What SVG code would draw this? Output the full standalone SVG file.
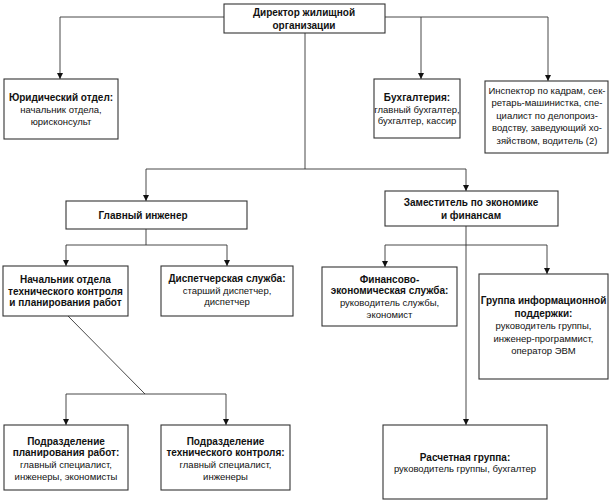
<svg xmlns="http://www.w3.org/2000/svg" width="611" height="504" viewBox="0 0 611 504">
<style>
.box{fill:#fff;stroke:#333;stroke-width:1.1}
.ln{fill:none;stroke:#333;stroke-width:0.9}
text{font-family:"Liberation Sans",Arial,sans-serif;fill:#111;text-anchor:middle}
.b{font-weight:bold;font-size:10px}
.r{font-size:9.5px}
</style>
<defs>
<marker id="ah" viewBox="0 0 10 10" refX="10" refY="5" markerWidth="9" markerHeight="6" markerUnits="userSpaceOnUse" orient="auto">
<path d="M0,0 L10,5 L0,10 z" fill="#111"/>
</marker>
</defs>
<rect width="611" height="504" fill="#fff"/>
<g id="connectors" class="ln">
<path d="M224,17 H60 V79" marker-end="url(#ah)"/>
<path d="M385,17 H548 V81" marker-end="url(#ah)"/>
<path d="M421,17 V79" marker-end="url(#ah)"/>
<path d="M305,33 V169 M146,169 H466"/>
<path d="M146,169 V201" marker-end="url(#ah)"/>
<path d="M466,169 V191" marker-end="url(#ah)"/>
<path d="M146,229 V245 M66,245 H227"/>
<path d="M66,245 V266" marker-end="url(#ah)"/>
<path d="M227,245 V266" marker-end="url(#ah)"/>
<path d="M68,316 L145,394 M66,394 H226"/>
<path d="M66,394 V425" marker-end="url(#ah)"/>
<path d="M226,394 V425" marker-end="url(#ah)"/>
<path d="M466,226 V425" marker-end="url(#ah)"/>
<path d="M385,245 H547"/>
<path d="M385,245 V267" marker-end="url(#ah)"/>
<path d="M547,245 V274" marker-end="url(#ah)"/>
</g>
<g id="director">
<rect class="box" x="224" y="4" width="161" height="29"/>
<text class="b" x="304" y="15.5">Директор жилищной</text>
<text class="b" x="304" y="28.5">организации</text>
</g>
<g id="legal">
<rect class="box" x="4" y="79" width="114" height="60"/>
<text class="b" x="61" y="100.5">Юридический отдел:</text>
<text class="r" x="61" y="112.5">начальник отдела,</text>
<text class="r" x="61" y="125">юрисконсульт</text>
</g>
<g id="accounting">
<rect class="box" x="374" y="79" width="86" height="59"/>
<text class="b" x="417" y="100.5">Бухгалтерия:</text>
<text class="r" x="417" y="112.5">главный бухгалтер,</text>
<text class="r" x="417" y="124">бухгалтер, кассир</text>
</g>
<g id="staff">
<rect class="box" x="485" y="81" width="123" height="72"/>
<text class="r" x="547" y="93.5">Инспектор по кадрам, сек-</text>
<text class="r" x="547" y="106">ретарь-машинистка, спе-</text>
<text class="r" x="547" y="118.5">циалист по делопроиз-</text>
<text class="r" x="547" y="131">водству, заведующий хо-</text>
<text class="r" x="547" y="143.5">зяйством, водитель (2)</text>
</g>
<g id="chief-engineer">
<rect class="box" x="66" y="201" width="181" height="28"/>
<text class="b" x="143" y="218.5">Главный инженер</text>
</g>
<g id="deputy">
<rect class="box" x="385" y="191" width="173" height="35"/>
<text class="b" x="471" y="205.5">Заместитель по экономике</text>
<text class="b" x="471" y="218.5">и финансам</text>
</g>
<g id="tech-control-head">
<rect class="box" x="3" y="266" width="125" height="50"/>
<text class="b" x="65.5" y="283">Начальник отдела</text>
<text class="b" x="65.5" y="294.5">технического контроля</text>
<text class="b" x="65.5" y="306">и планирования работ</text>
</g>
<g id="dispatch">
<rect class="box" x="161" y="266" width="132" height="50"/>
<text class="b" x="227" y="282">Диспетчерская служба:</text>
<text class="r" x="227" y="293.5">старший диспетчер,</text>
<text class="r" x="227" y="305">диспетчер</text>
</g>
<g id="finance">
<rect class="box" x="322" y="267" width="135" height="59"/>
<text class="b" x="389.5" y="282.5">Финансово-</text>
<text class="b" x="389.5" y="294">экономическая служба:</text>
<text class="r" x="389.5" y="305.5">руководитель службы,</text>
<text class="r" x="389.5" y="317.5">экономист</text>
</g>
<g id="it-support">
<rect class="box" x="479" y="274" width="129" height="105"/>
<text class="b" x="543.5" y="304">Группа информационной</text>
<text class="b" x="543.5" y="316.5">поддержки:</text>
<text class="r" x="543.5" y="329">руководитель группы,</text>
<text class="r" x="543.5" y="341.5">инженер-программист,</text>
<text class="r" x="543.5" y="354">оператор ЭВМ</text>
</g>
<g id="planning">
<rect class="box" x="4" y="425" width="124" height="65"/>
<text class="b" x="66" y="444.5">Подразделение</text>
<text class="b" x="66" y="456">планирования работ:</text>
<text class="r" x="66" y="467.5">главный специалист,</text>
<text class="r" x="66" y="479.5">инженеры, экономисты</text>
</g>
<g id="tech-control">
<rect class="box" x="161" y="425" width="129" height="65"/>
<text class="b" x="225.5" y="444.5">Подразделение</text>
<text class="b" x="225.5" y="456">технического контроля:</text>
<text class="r" x="225.5" y="467.5">главный специалист,</text>
<text class="r" x="225.5" y="479.5">инженеры</text>
</g>
<g id="settlement">
<rect class="box" x="383" y="425" width="164" height="74"/>
<text class="b" x="465" y="460.5">Расчетная группа:</text>
<text class="r" x="465" y="471.5">руководитель группы, бухгалтер</text>
</g>
</svg>
